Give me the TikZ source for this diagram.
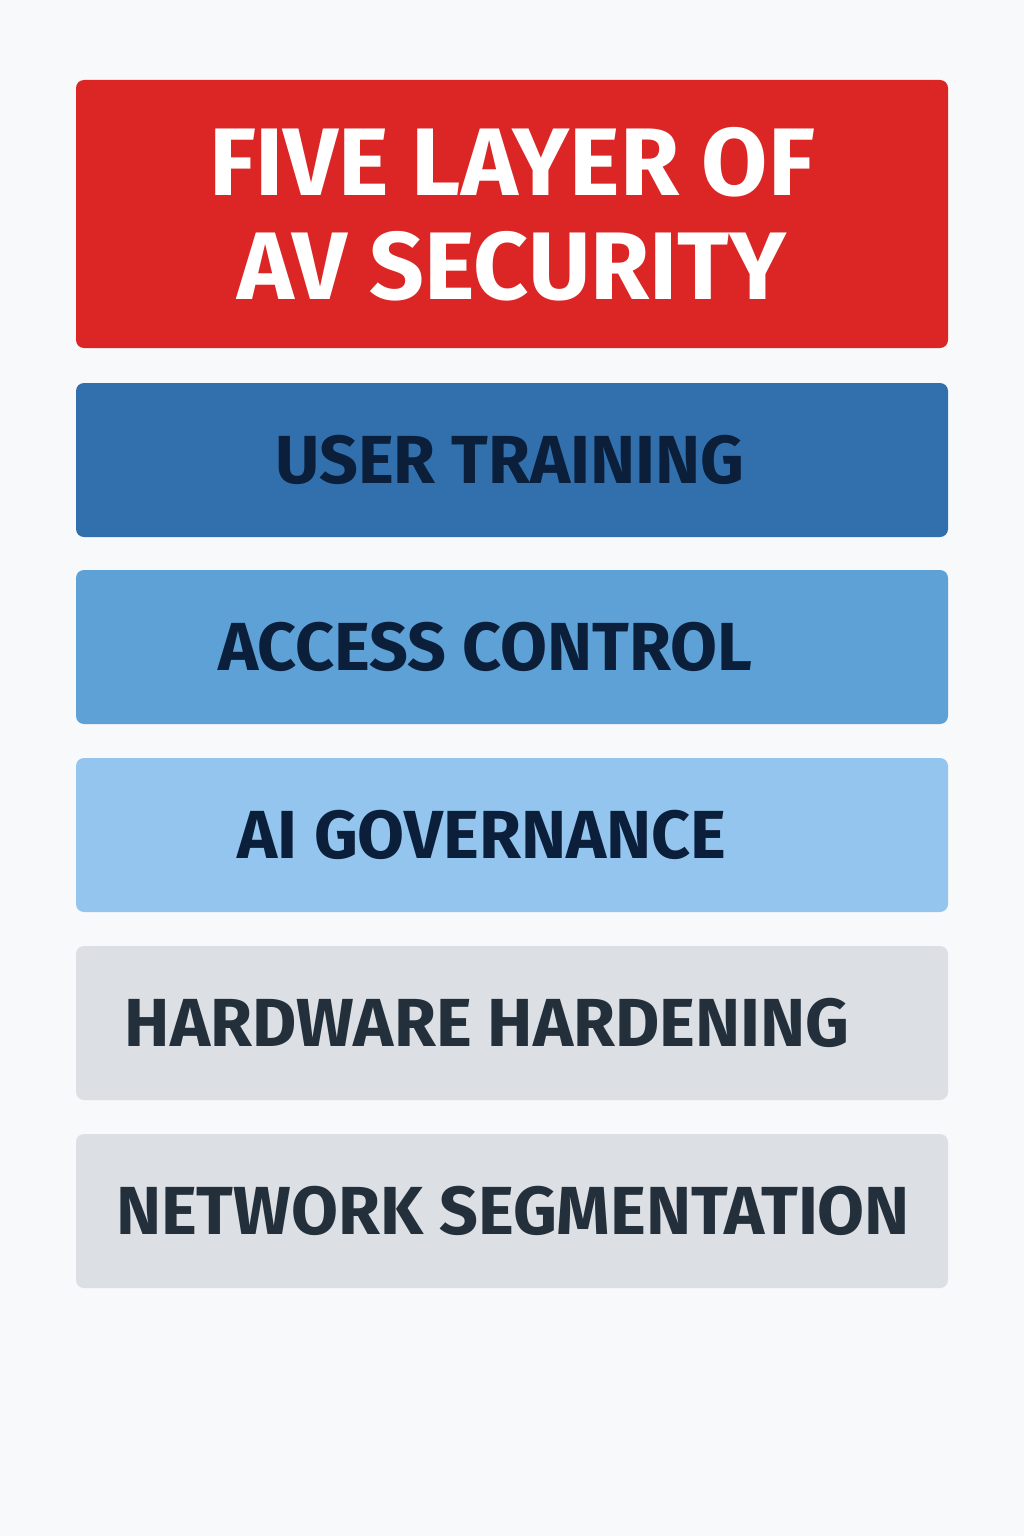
\documentclass[tikz,border=0pt]{standalone}
\usepackage{fontspec}
\setmainfont{Fira Sans}
\usepackage{tikz}
\usetikzlibrary{positioning}
\definecolor{bgcol}{HTML}{F8F9FA}
\definecolor{titlered}{HTML}{DC2626}
\definecolor{layerA}{HTML}{3170AD}
\definecolor{layerB}{HTML}{5EA1D6}
\definecolor{layerC}{HTML}{93C5EE}
\definecolor{layerD}{HTML}{DCDFE3}
\definecolor{navytext}{HTML}{0B1F3A}
\definecolor{greytext}{HTML}{23303B}
\tikzstyle{layer box}=[rounded corners=4pt, minimum width=436pt, minimum height=77pt, inner sep=0pt]
\tikzstyle{layer text}=[font=\fontsize{34}{38}\selectfont\bfseries]

\begin{document}
\begin{tikzpicture}[x=0.5pt, y=-0.5pt]
    \fill [bgcol] (0,0) rectangle (1024,1536);

    \node [layer box, fill=titlered, minimum height=134pt] (title) at (512,214) {};
    \node [align=center, text=white, font=\fontsize{48}{52}\selectfont\bfseries] (title-text) at (512,214) {FIVE LAYER OF\\AV SECURITY};

    \foreach \c/\y/\x/\t/\l in {layerA/460/510/navytext/USER TRAINING,
                               layerB/647/485/navytext/ACCESS CONTROL,
                               layerC/835/482/navytext/AI GOVERNANCE,
                               layerD/1023/487/greytext/HARDWARE HARDENING,
                               layerD/1211/513/greytext/NETWORK SEGMENTATION}
    {
    \node [layer box, fill=\c] (box-\y) at (512,\y) {};
    \node [layer text, text=\t] (label-\y) at (\x,\y) {\l};
    }
\end{tikzpicture}
\end{document}
